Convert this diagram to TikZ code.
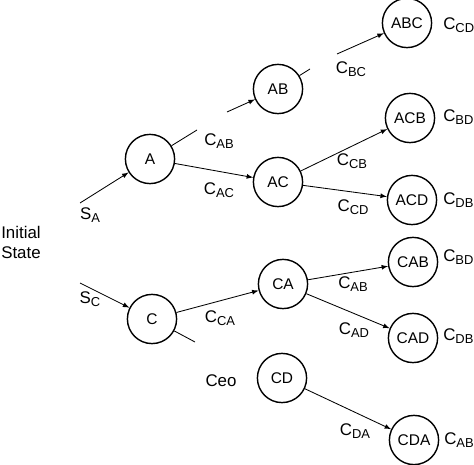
\documentclass[tikz,border=0pt]{standalone}
\usepackage{fontspec}
\setmainfont{Liberation Sans}
\usetikzlibrary{positioning}
\newcommand{\lowtxt}[1]{\raisebox{-0.35ex}{\fontsize{9.2}{10}\selectfont #1}}

\begin{document}
\begin{tikzpicture}[x=0.025cm, y=-0.025cm,
		state/.style={draw, circle, line width=1pt, minimum size=1.23cm, inner sep=0pt, font=\fontsize{11}{12}\selectfont},
		cost/.style={inner sep=0pt, font=\fontsize{12}{14.2}\selectfont},
		edge/.style={line width=0.6pt, -latex},
		stub/.style={line width=0.6pt}]
		\useasboundingbox (0,0) rectangle (474,465);
		
		% A, AB, ABC
		\node[state] (A) at (150,159) {A};
		\node[state] (AB) at (278,89) {AB};
		\node[state] (ABC) at (407,23) {ABC};
		
		% AC, ACB, ACD
		\node[state] (AC) at (278,182) {AC};
		\node[state] (ACB) at (410,118) {ACB};
		\node[state] (ACD) at (412,200) {ACD};
		
		% C, CA, CAB, CAD
		\node[state] (C) at (152,319) {C};
		\node[state] (CA) at (283,284) {CA};
		\node[state] (CAB) at (413,262) {CAB};
		\node[state] (CAD) at (413,338) {CAD};
		
		% CD, CDA
		\node[state] (CD) at (282,378) {CD};
		\node[state] (CDA) at (414,440) {CDA};
		
		% initial state
		\node[cost, align=left, anchor=west] (init) at (1,242) {Initial\\State};
		
		% free ends
		\coordinate (sA) at (80,203);
		\coordinate (sC) at (80,283);
		\coordinate (aOut) at (197,130);
		\coordinate (abIn) at (227,112);
		\coordinate (abOut) at (310,69);
		\coordinate (abcIn) at (337,54);
		\coordinate (cOut) at (195,342);
		
		% costs
		\node[cost] (lSA) at (90,215) {S\lowtxt{A}};
		\node[cost] (lSC) at (90,299) {S\lowtxt{C}};
		\node[cost] (lAB) at (219,141) {C\lowtxt{AB}};
		\node[cost] (lAC) at (219,190) {C\lowtxt{AC}};
		\node[cost] (lBC) at (351,69) {C\lowtxt{BC}};
		\node[cost] (lCB) at (352,161) {C\lowtxt{CB}};
		\node[cost] (lCD) at (353,207) {C\lowtxt{CD}};
		\node[cost] (lCA) at (220,318) {C\lowtxt{CA}};
		\node[cost] (lCAB) at (353,284) {C\lowtxt{AB}};
		\node[cost] (lAD) at (354,330) {C\lowtxt{AD}};
		\node[cost] (lCeo) at (221,381) {Ceo};
		\node[cost] (lDA) at (355,431) {C\lowtxt{DA}};
		
		% costs on the right
		\node[cost, anchor=west] (rABC) at (443,25) {C\lowtxt{CD}};
		\node[cost, anchor=west] (rACB) at (443,117) {C\lowtxt{BD}};
		\node[cost, anchor=west] (rACD) at (443,200) {C\lowtxt{DB}};
		\node[cost, anchor=west] (rCAB) at (443,257) {C\lowtxt{BD}};
		\node[cost, anchor=west] (rCAD) at (443,336) {C\lowtxt{DB}};
		\node[cost, anchor=west] (rCDA) at (444,440) {C\lowtxt{AB}};
		
		% arcos de A
		\draw[edge] (sA)--(A);
		\draw[stub] (A)--(aOut);
		\draw[edge] (abIn)--(AB);
		\draw[stub] (AB)--(abOut);
		\draw[edge] (abcIn)--(ABC);
		\draw[edge] (A)--(AC);
		\draw[edge] (AC)--(ACB);
		\draw[edge] (AC)--(ACD);
		
		% arcos de C
		\draw[edge] (sC)--(C);
		\draw[stub] (C)--(cOut);
		\draw[edge] (C)--(CA);
		\draw[edge] (CA)--(CAB);
		\draw[edge] (CA)--(CAD);
		\draw[edge] (CD)--(CDA);
\end{tikzpicture}
\end{document}
